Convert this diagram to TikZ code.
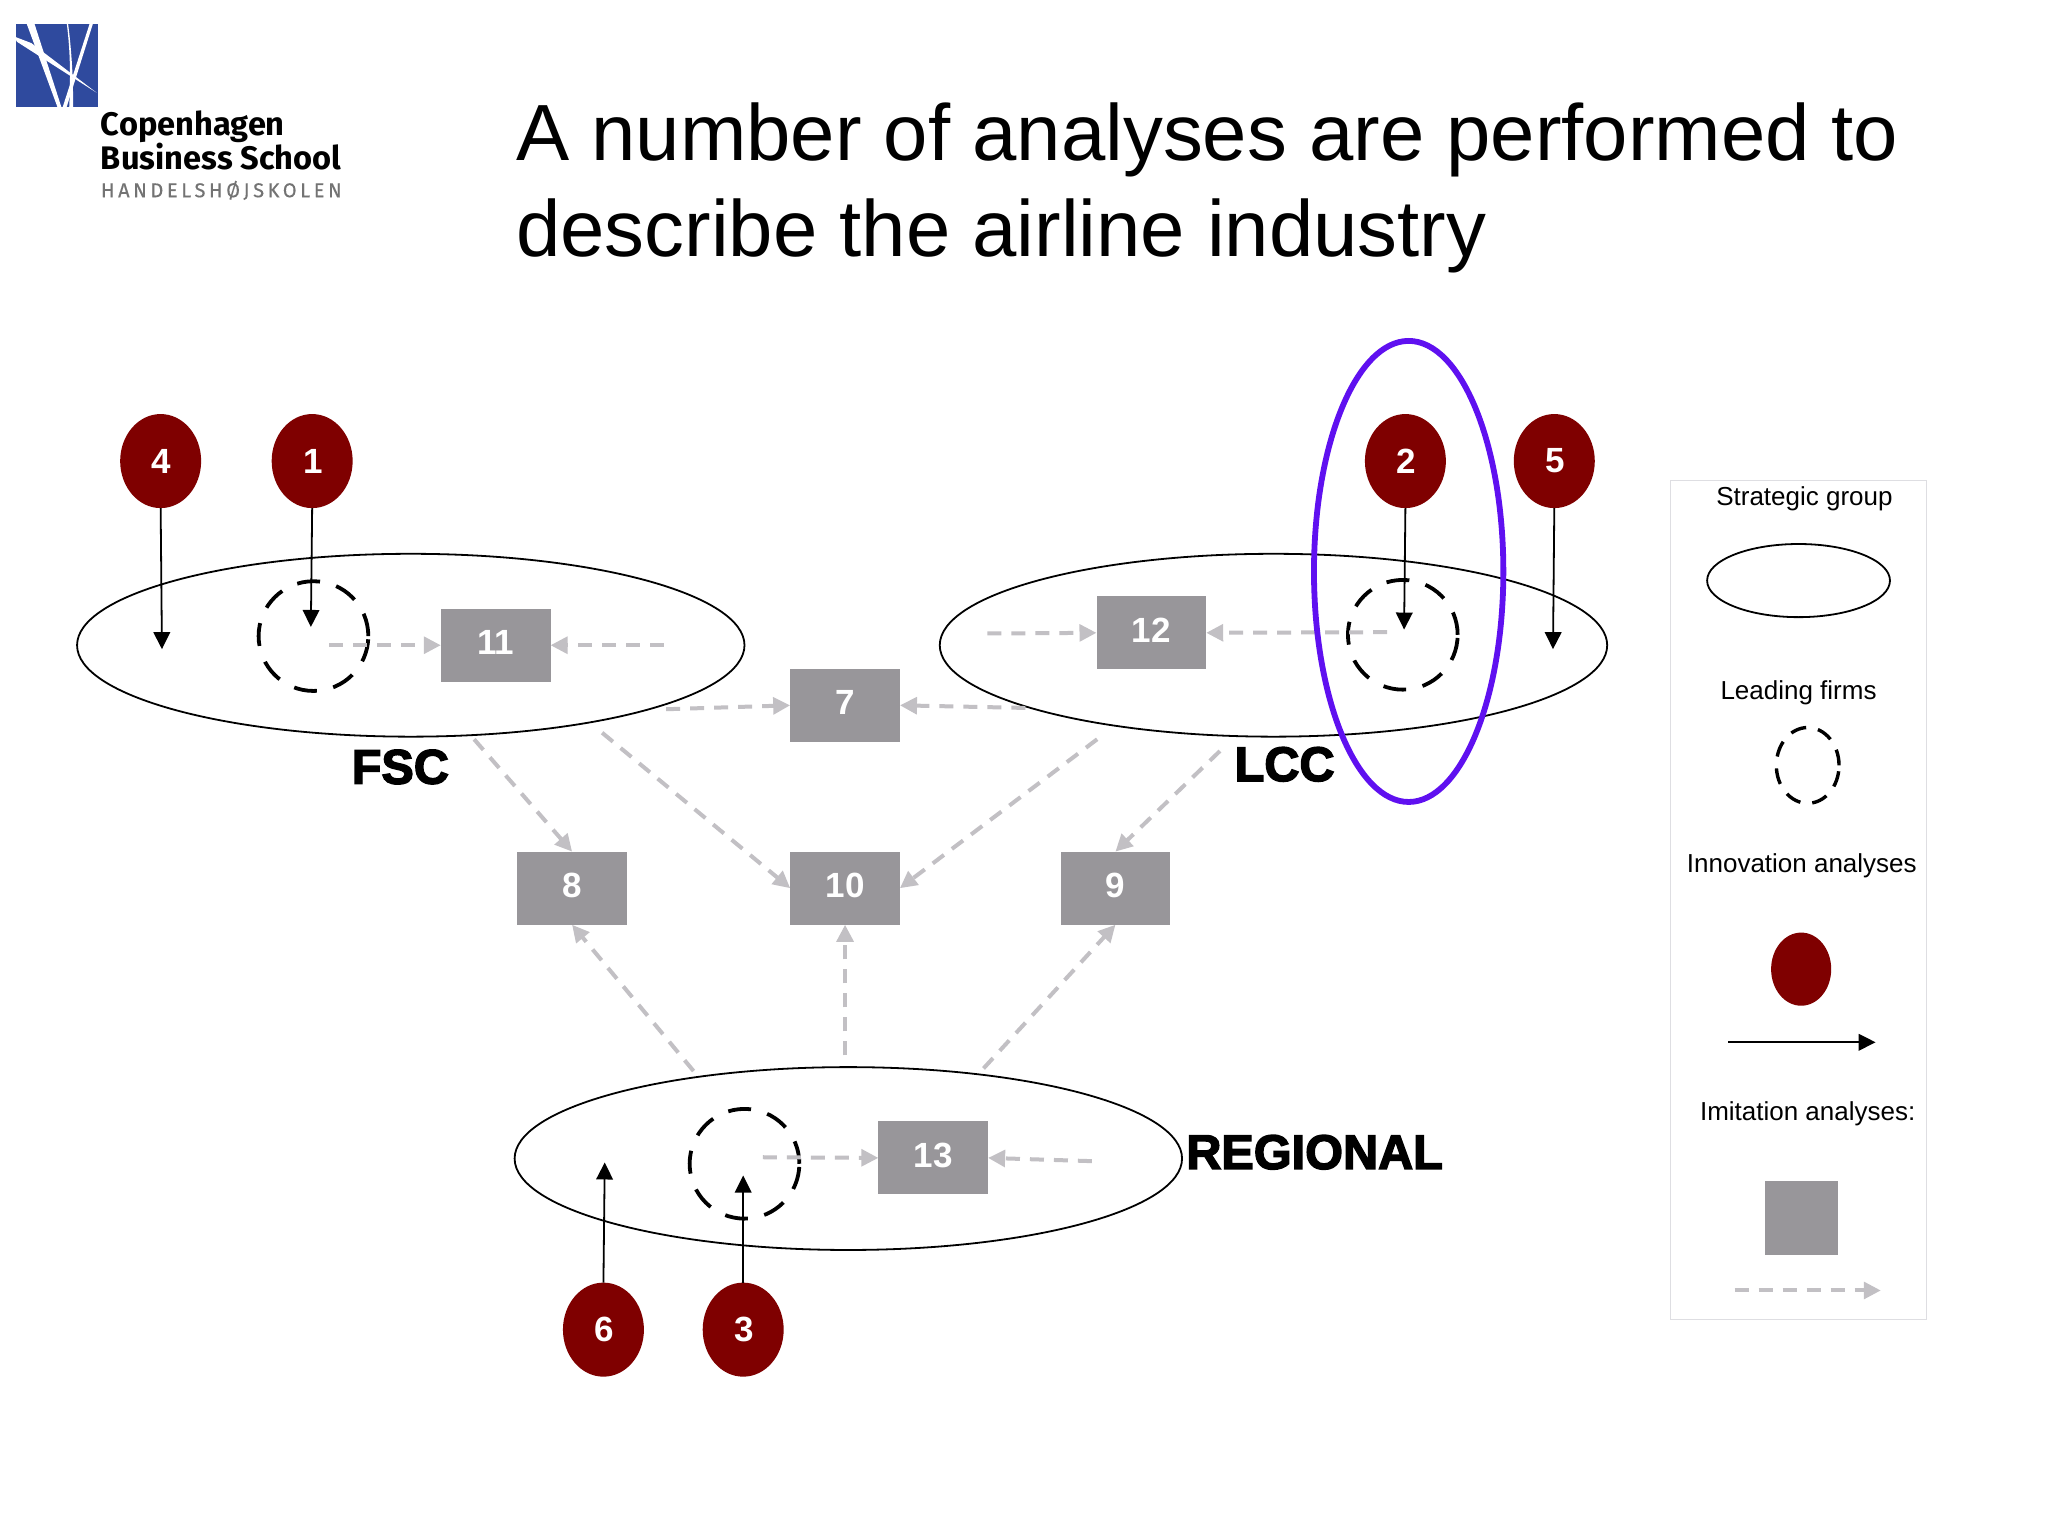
\documentclass[tikz,border=0pt]{standalone}
\usepackage{fontspec}
\setmainfont{Liberation Sans}
\newfontfamily\logofont{Fira Sans}
\newfontfamily\logospaced[LetterSpace=18,FakeBold=0.4]{Fira Sans}
\newfontfamily\heavyfont[FakeBold=3]{Liberation Sans Bold}
\usetikzlibrary{arrows.meta,shapes.geometric}
\def\ux{0.65306pt}
\definecolor{cbsblue}{HTML}{2F4A9E}
\definecolor{darkred}{HTML}{7F0000}
\definecolor{boxgray}{HTML}{98969A}
\definecolor{dashgray}{HTML}{C2C0C4}
\definecolor{violetline}{HTML}{5F10F0}
\definecolor{legendline}{HTML}{DEDEE2}
\tikzset{
  group/.style={draw=black,line width=0.9pt,ellipse,minimum width=511*\ux,minimum height=140*\ux,inner sep=0pt,outer sep=0pt},
  leader/.style={draw=black,line width=1.9pt,circle,dash pattern=on 11.5pt off 8.4pt,minimum size=84*\ux,inner sep=0pt,outer sep=0pt},
  innov/.style={fill=darkred,ellipse,minimum width=62*\ux,minimum height=72*\ux,inner sep=0pt,outer sep=0pt,text=white,font=\fontsize{17.5}{17.5}\selectfont\bfseries},
  imit/.style={fill=boxgray,minimum width=84*\ux,minimum height=56*\ux,inner sep=0pt,outer sep=0pt,text=white,font=\fontsize{17.5}{17.5}\selectfont\bfseries},
  blackarrow/.style={draw=black,line width=0.9pt,-{Triangle[length=8.5pt,width=8.3pt]}},
  grayarrow/.style={draw=dashgray,line width=2pt,dash pattern=on 7pt off 5pt,-{Triangle[length=8.5pt,width=8.3pt,fill=dashgray]}},
  title/.style={anchor=base west,inner sep=0pt,font=\fontsize{39.85}{39.85}\selectfont},
  grouplabel/.style={anchor=base west,inner sep=0pt,font=\fontsize{24.3}{24.3}\selectfont\heavyfont},
  legendtext/.style={inner sep=0pt,font=\fontsize{13}{13}\selectfont},
  logotext/.style={anchor=base west,inner sep=0pt,font=\fontsize{16.3}{16.3}\selectfont\logofont\bfseries},
}
\begin{document}
\begin{tikzpicture}[x=0.65306pt,y=-0.65306pt]
\useasboundingbox (0,0) rectangle (1568,1176);
\fill[white] (0,0) rectangle (1568,1176);
% logo
\fill[cbsblue] (12,18) rectangle (75,82);
\begin{scope}
\clip (12,18) rectangle (75,82);
\fill[white] (11,28) -- (13,32) -- (74,71) -- (24,33) -- cycle;
\fill[white] (20,17) -- (26,17) -- (47,82) -- (44,82) -- cycle;
\fill[white] (52,17) .. controls (55,40) and (56,60) .. (56,82) -- (53,82) .. controls (54,60) and (54,40) .. (51,17) -- cycle;
\fill[white] (69,17) -- (71.5,17) -- (51,82) -- (48,82) -- cycle;
\end{scope}
\node[logotext] (logoA) at (77,104) {Copenhagen};
\node[logotext] (logoB) at (77,130) {Business School};
\node[anchor=base west,inner sep=0pt,text=black!55,font=\fontsize{10}{10}\selectfont\logospaced] (logoC) at (77,151) {HANDELSHØJSKOLEN};
% title
\node[title] (t1) at (395,122.5) {A number of analyses are performed to};
\node[title] (t2) at (395,196) {describe the airline industry};
% groups
\node[group] (fsc) at (314.5,494) {};
\node[group] (lcc) at (975,494) {};
\node[group] (reg) at (649.5,887) {};
\node[leader] (lf) at (240,487) {};
\node[leader] (ll) at (1074,486) {};
\node[leader] (lr) at (570,891) {};
% imitation boxes
\node[imit] (n11) at (379.5,494) {\raisebox{3pt}{11}};
\node[imit] (n12) at (881.5,484.5) {\raisebox{3pt}{12}};
\node[imit] (n7) at (647,540) {\raisebox{3pt}{7}};
\node[imit] (n8) at (438,680) {\raisebox{3pt}{8}};
\node[imit] (n10) at (647,680) {\raisebox{3pt}{10}};
\node[imit] (n9) at (854,680) {\raisebox{3pt}{9}};
\node[imit] (n13) at (714.5,886.5) {\raisebox{3pt}{13}};
% innovation
\node[innov] (r4) at (123,353) {\hspace{1pt}4};
\node[innov] (r1) at (239,353) {\hspace{1pt}1};
\node[innov] (r2) at (1076,353) {\hspace{1pt}2};
\node[innov] (r5) at (1190,353) {\hspace{1pt}5};
\node[innov] (r6) at (462,1018) {\hspace{1pt}6};
\node[innov] (r3) at (569,1018) {\hspace{1pt}3};
% free ends
\coordinate (e4) at (124,497);
\coordinate (e1) at (238,480);
\coordinate (e2) at (1075,482);
\coordinate (e5) at (1189,497);
\coordinate (e6) at (463,890);
\coordinate (e3) at (569,900);
\draw[blackarrow] (r4.south) -- (e4);
\draw[blackarrow] (r1.south) -- (e1);
\draw[blackarrow] (r2.south) -- (e2);
\draw[blackarrow] (r5.south) -- (e5);
\draw[blackarrow] (r6.north) -- (e6);
\draw[blackarrow] (r3.north) -- (e3);
\coordinate (g1) at (252,494);
\coordinate (g2) at (508,494);
\coordinate (g3) at (756,485);
\coordinate (g4) at (1062,484);
\coordinate (g5) at (510,543);
\coordinate (g6) at (785,542);
\coordinate (g7) at (363,566);
\coordinate (g8) at (461,561);
\coordinate (g9) at (840,566);
\coordinate (g10) at (934,575);
\coordinate (g11) at (531,820);
\coordinate (g12) at (647,808);
\coordinate (g13) at (753,818);
\coordinate (g14) at (584,886);
\coordinate (g15) at (836,889);
\draw[grayarrow] (g1) -- (n11.west);
\draw[grayarrow] (g2) -- (n11.east);
\draw[grayarrow] (g3) -- (n12.west);
\draw[grayarrow] (g4) -- (n12.east);
\draw[grayarrow] (g5) -- (n7.west);
\draw[grayarrow] (g6) -- (n7.east);
\draw[grayarrow] (g7) -- (n8.north);
\draw[grayarrow] (g8) -- (n10.west);
\draw[grayarrow] (g9) -- (n10.east);
\draw[grayarrow] (g10) -- (n9.north);
\draw[grayarrow] (g11) -- (n8.south);
\draw[grayarrow] (g12) -- (n10.south);
\draw[grayarrow] (g13) -- (n9.south);
\draw[grayarrow] (g14) -- (n13.west);
\draw[grayarrow] (g15) -- (n13.east);
% highlight
\node[draw=violetline,line width=2.9pt,ellipse,minimum width=145*\ux,minimum height=353*\ux,inner sep=0pt,outer sep=0pt] (hl) at (1078.5,437.5) {};
% labels
\node[grouplabel] (lfsc) at (269,600) {FSC};
\node[grouplabel] (llcc) at (945,598) {LCC};
\node[grouplabel] (lreg) at (908,895) {REGIONAL};
% legend
\node[draw=legendline,line width=0.6pt,minimum width=196*\ux,minimum height=642*\ux,inner sep=0pt] (legend) at (1377,689) {};
\node[legendtext] (s1) at (1381.5,381.5) {Strategic group};
\node[legendtext] (s2) at (1377,530.5) {Leading firms};
\node[legendtext] (s3) at (1379.5,662.5) {Innovation analyses};
\node[legendtext] (s4) at (1384,852.5) {Imitation analyses:};
\node[group,minimum width=140*\ux,minimum height=56*\ux] (lg1) at (1377,444.5) {};
\node[draw=black,line width=1.7pt,ellipse,dash pattern=on 8pt off 6pt,minimum width=48*\ux,minimum height=58*\ux,inner sep=0pt,outer sep=0pt] (lg2) at (1384,586) {};
\node[fill=darkred,ellipse,minimum width=46*\ux,minimum height=56*\ux,inner sep=0pt] (lg3) at (1379,742) {};
\node[fill=boxgray,minimum width=56*\ux,minimum height=56*\ux,inner sep=0pt] (lg4) at (1379,932.5) {};
\coordinate (a1) at (1323,798);
\coordinate (a2) at (1436,798);
\coordinate (a3) at (1328,988);
\coordinate (a4) at (1440,988);
\draw[blackarrow] (a1) -- (a2);
\draw[grayarrow] (a3) -- (a4);
\end{tikzpicture}
\end{document}
